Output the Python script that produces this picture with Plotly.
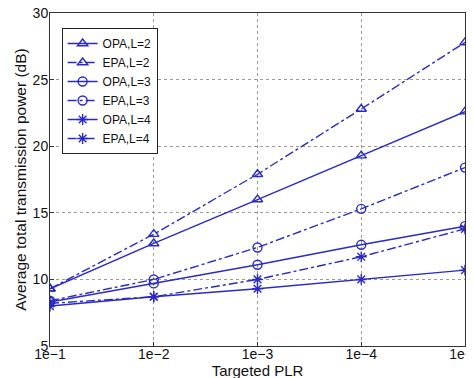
import plotly.graph_objects as go

x_labels = ["1e\u22121", "1e\u22122", "1e\u22123", "1e\u22124", "1e\u22125"]
x_pos = [1, 2, 3, 4, 5]

opa_l2 = [9.3, 12.7, 16.0, 19.3, 22.6]
epa_l2 = [9.3, 13.4, 17.9, 22.8, 27.8]
opa_l3 = [8.3, 9.7, 11.1, 12.6, 14.0]
epa_l3 = [8.4, 10.0, 12.4, 15.3, 18.4]
opa_l4 = [8.0, 8.7, 9.3, 10.0, 10.7]
epa_l4 = [8.2, 8.7, 10.0, 11.7, 13.8]

names = ["OPA,L=2", "EPA,L=2", "OPA,L=3", "EPA,L=3", "OPA,L=4", "EPA,L=4"]
series = [opa_l2, epa_l2, opa_l3, epa_l3, opa_l4, epa_l4]
symbols = ["triangle-up-open", "triangle-up-open", "circle-open", "circle-open",
           "asterisk-open", "asterisk-open"]
dashes = ["solid", "dashdot", "solid", "dashdot", "solid", "dashdot"]

color = "#2a2ac4"

fig = go.Figure()
for n, s, sym, d in zip(names, series, symbols, dashes):
    fig.add_trace(go.Scatter(
        x=x_pos, y=s, name=n, mode="lines+markers",
        line=dict(color=color, width=1.4, dash=d),
        marker=dict(symbol=sym, size=9, color=color, line=dict(color=color, width=1.4)),
    ))

axis_common = dict(
    showline=True, linecolor="#333333", linewidth=1, mirror=True,
    ticks="inside", ticklen=4, tickcolor="#333333",
    showgrid=True, gridcolor="#9a9a9a", griddash="dot", gridwidth=1,
    zeroline=False,
    tickfont=dict(family="Liberation Sans, Arial", size=14, color="#111111"),
)

fig.update_layout(
    width=474, height=378,
    margin=dict(l=42, r=17, t=5, b=40, autoexpand=False),
    paper_bgcolor="white", plot_bgcolor="white",
    font=dict(family="Liberation Sans, Arial", color="#111111"),
    xaxis=dict(range=[1, 5], tickvals=x_pos, ticktext=x_labels,
               ticklabelstandoff=-5,
               title=dict(text="Targeted PLR", font=dict(size=15), standoff=0),
               **axis_common),
    yaxis=dict(range=[5, 30.01], tickvals=[5, 10, 15, 20, 25, 30],
               ticklabeloverflow="allow", ticklabelstandoff=-2,
               title=dict(text="Average total transmission power (dB)", font=dict(size=15.5), standoff=2),
               **axis_common),
    legend=dict(x=0.028, y=0.955, xanchor="left", yanchor="top",
                bordercolor="#222222", borderwidth=1, bgcolor="white",
                font=dict(size=12, color="#111111"),
                itemwidth=30, tracegroupgap=0),
    showlegend=True,
)

fig.write_html("out.html")
